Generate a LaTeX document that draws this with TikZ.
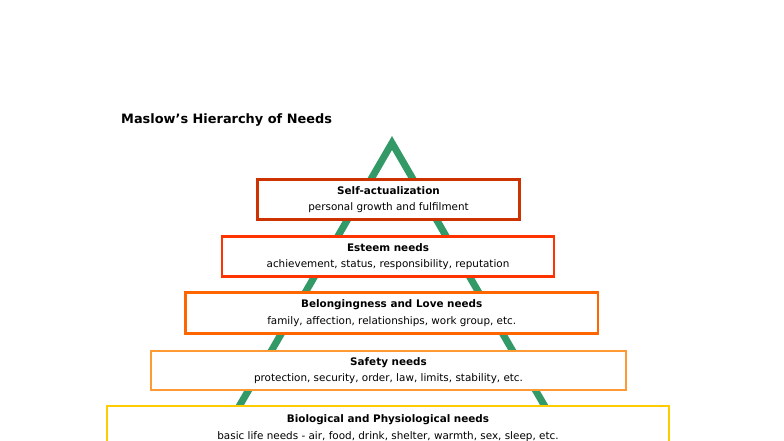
\documentclass[tikz,border=0pt]{standalone}
\usepackage{fontspec}
\setmainfont{DejaVu Sans}
\definecolor{pyrgreen}{HTML}{339966}
\definecolor{cA}{HTML}{CC3300}
\definecolor{cB}{HTML}{FF3300}
\definecolor{cC}{HTML}{FF6600}
\definecolor{cD}{HTML}{FF9933}
\definecolor{cE}{HTML}{FFCC00}
\begin{document}
\begin{tikzpicture}[x=1pt,y=-1pt,
  level/.style={draw=#1, line width=2.6pt, fill=white, rectangle, inner sep=0pt,
    align=center, font=\fontsize{10.4}{16.5}\selectfont},
  ttl/.style={font=\fontsize{12.9}{14}\selectfont\bfseries, anchor=west}]
\useasboundingbox (0,0) rectangle (784,441);
\clip (0,0) rectangle (784,441);
\fill[white] (0,0) rectangle (784,441);
\node[ttl, inner sep=0pt] (title) at (121,120) {Maslow’s Hierarchy of Needs};
\coordinate (apex) at (392,143);
\coordinate (bl) at (208,460);
\coordinate (br) at (576,460);
\draw[pyrgreen, line width=7pt, line join=miter] (bl) -- (apex) -- (br);
\node[level=cA, minimum width=262pt, minimum height=40pt] (self) at (388.5,199.5)
  {\textbf{Self-actualization}\\personal growth and fulfilment};
\node[level=cB, minimum width=332pt, minimum height=40.5pt] (esteem) at (388,256.5)
  {\textbf{Esteem needs}\\achievement, status, responsibility, reputation};
\node[level=cC, minimum width=412.5pt, minimum height=41pt] (love) at (391.75,313)
  {\textbf{Belongingness and Love needs}\\family, affection, relationships, work group, etc.};
\node[level=cD, minimum width=475pt, minimum height=39pt] (safety) at (388.5,370.5)
  {\textbf{Safety needs}\\protection, security, order, law, limits, stability, etc.};
\node[level=cE, minimum width=562pt, minimum height=44pt] (bio) at (388,428)
  {\textbf{Biological and Physiological needs}\\basic life needs - air, food, drink, shelter, warmth, sex, sleep, etc.};
\end{tikzpicture}
\end{document}
